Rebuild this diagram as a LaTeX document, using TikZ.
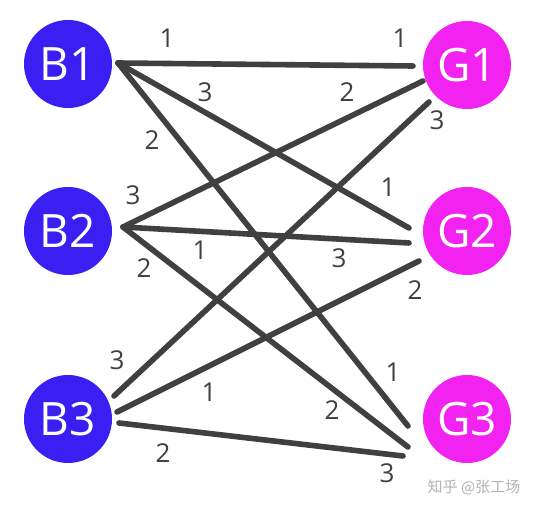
\documentclass[tikz,border=0pt]{standalone}
\usepackage{fontspec}
\setmainfont{Open Sans}
\newfontfamily\cjk{Noto Sans CJK SC}
\definecolor{bcol}{HTML}{3A1FF2}
\definecolor{gcol}{HTML}{F222F0}
\definecolor{ecol}{HTML}{404040}
\begin{document}
\begin{tikzpicture}[x=1pt,y=-1pt,
  boy/.style={circle,fill=bcol,minimum size=88pt,inner sep=0pt,text=white,font=\fontsize{46}{46}\selectfont},
  girl/.style={circle,fill=gcol,minimum size=88pt,inner sep=0pt,text=white,font=\fontsize{46}{46}\selectfont},
  edge/.style={draw=ecol,line width=5.6pt,line cap=round},
  wt/.style={text=ecol,font=\fontsize{26}{26}\selectfont,inner sep=0pt}]
\useasboundingbox (0,0) rectangle (536,508);
\node[boy] (B1) at (68,64) {B1};
\node[boy] (B2) at (68,231) {B2};
\node[boy] (B3) at (68,419) {B3};
\node[girl] (G1) at (467,65) {G1};
\node[girl] (G2) at (467,231) {G2};
\node[girl] (G3) at (467,419) {G3};
% connector end points
\coordinate (b1) at (118,63);
\coordinate (b2) at (123,227);
\coordinate (b3a) at (114,396);
\coordinate (b3b) at (117,412);
\coordinate (b3c) at (119,423);
\coordinate (g1a) at (413,66);
\coordinate (g1b) at (423,81);
\coordinate (g1c) at (429,102);
\coordinate (g2a) at (409,228);
\coordinate (g2b) at (409,243);
\coordinate (g2c) at (419,261);
\coordinate (g3a) at (408,426);
\coordinate (g3b) at (408,447);
\coordinate (g3c) at (403,456);
\draw[edge] (b1) -- (g1a);
\draw[edge] (b1) -- (g2a);
\draw[edge] (b1) -- (g3a);
\draw[edge] (b2) -- (g1b);
\draw[edge] (b2) -- (g2b);
\draw[edge] (b2) -- (g3b);
\draw[edge] (b3a) -- (g1c);
\draw[edge] (b3b) -- (g2c);
\draw[edge] (b3c) -- (g3c);
% weights
\node[wt] (w1) at (167,38) {1};
\node[wt] (w2) at (400,38) {1};
\node[wt] (w3) at (205,92) {3};
\node[wt] (w4) at (347,92) {2};
\node[wt] (w5) at (152,140) {2};
\node[wt] (w6) at (437,120) {3};
\node[wt] (w7) at (133,195) {3};
\node[wt] (w8) at (388,187) {1};
\node[wt] (w9) at (200,250) {1};
\node[wt] (w10) at (339,258) {3};
\node[wt] (w11) at (144,268) {2};
\node[wt] (w12) at (415,290) {2};
\node[wt] (w13) at (117,360) {3};
\node[wt] (w14) at (393,372) {1};
\node[wt] (w15) at (209,392) {1};
\node[wt] (w16) at (332,410) {2};
\node[wt] (w17) at (163,453) {2};
\node[wt] (w18) at (387,473) {3};
\node[text=black!30,font=\cjk\fontsize{15}{15}\selectfont,inner sep=0pt] (wm) at (474,487) {知乎 @张工场};
\end{tikzpicture}
\end{document}
